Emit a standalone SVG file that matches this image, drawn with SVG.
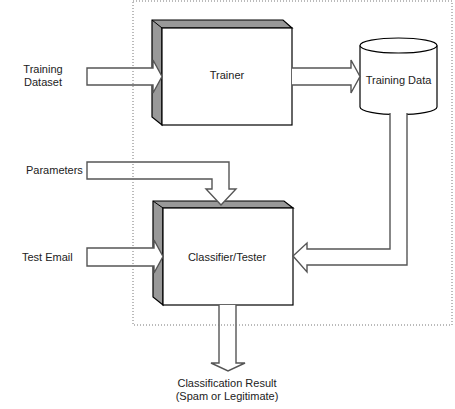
<svg xmlns="http://www.w3.org/2000/svg" width="455" height="409" viewBox="0 0 455 409">
<style>
.lbl{font-family:"Liberation Sans",Arial,sans-serif;font-size:11px;fill:#222}
.face{fill:#fff;stroke:#000;stroke-width:1.2}
.shadow{fill:#999;stroke:#000;stroke-width:1.2;stroke-linejoin:miter}
.arr{fill:#fff;stroke:#555;stroke-width:1.4;stroke-linejoin:miter}
.cyl{fill:#fff;stroke:#000;stroke-width:1.2}
</style>
<rect width="455" height="409" fill="#fff"/>
<g id="trainer">
  <path class="shadow" d="M152,20 H283 L292,28 H162 V125 L152,117 Z"/>
  <rect class="face" x="162" y="28" width="130" height="97"/>
  <line x1="152" y1="20" x2="162" y2="28" stroke="#000" stroke-width="1"/>
  <text class="lbl" x="227" y="79" text-anchor="middle">Trainer</text>
</g>
<g id="training-data">
  <path class="cyl" d="M360,45.5 V107 A38.5,7.5 0 0 0 437,107 V45.5"/>
  <ellipse class="cyl" cx="398.5" cy="45.5" rx="38.5" ry="7.5"/>
  <text class="lbl" x="398.5" y="84" text-anchor="middle">Training Data</text>
</g>
<g id="classifier">
  <path class="shadow" d="M153,201 H284 L293,208 H163 V305 L153,297 Z"/>
  <rect class="face" x="163" y="208" width="130" height="97"/>
  <line x1="153" y1="201" x2="163" y2="208" stroke="#000" stroke-width="1"/>
  <text class="lbl" x="227" y="261" text-anchor="middle">Classifier/Tester</text>
</g>
<g id="connectors">
  <path id="c-dataset" class="arr" d="M87,68 H153 V60 L162,76.5 L153,93 V85 H87 Z"/>
  <path id="c-trainer-data" class="arr" d="M292,68 H351 V60 L360,76.5 L351,93 V85 H292"/>
  <path id="c-data-classifier" class="arr" d="M390,113 V249 H307 V243 L293,256 L307,272 V265 H407 V113"/>
  <path id="c-params" class="arr" d="M87,162 H229 V189 H236 L221,205 L206,189 H212 V179 H87 Z"/>
  <path id="c-email" class="arr" d="M87,248 H154 V240 L163,256.5 L154,273 V266 H87 Z"/>
  <path id="c-result" class="arr" d="M219,305 V363 H211 L228,371 L245,363 H236 V305"/>
</g>
<rect id="boundary" x="133" y="1" width="319" height="324" fill="none" stroke="#777" stroke-width="1" stroke-dasharray="1,2"/>
<g id="inputs">
  <text class="lbl" x="43" y="73" text-anchor="middle">Training</text>
  <text class="lbl" x="43" y="86" text-anchor="middle">Dataset</text>
  <text class="lbl" x="26" y="174">Parameters</text>
  <text class="lbl" x="22" y="261">Test Email</text>
</g>
<g id="result">
  <text class="lbl" x="227" y="387" text-anchor="middle">Classification Result</text>
  <text class="lbl" x="227" y="400" text-anchor="middle">(Spam or Legitimate)</text>
</g>
</svg>
